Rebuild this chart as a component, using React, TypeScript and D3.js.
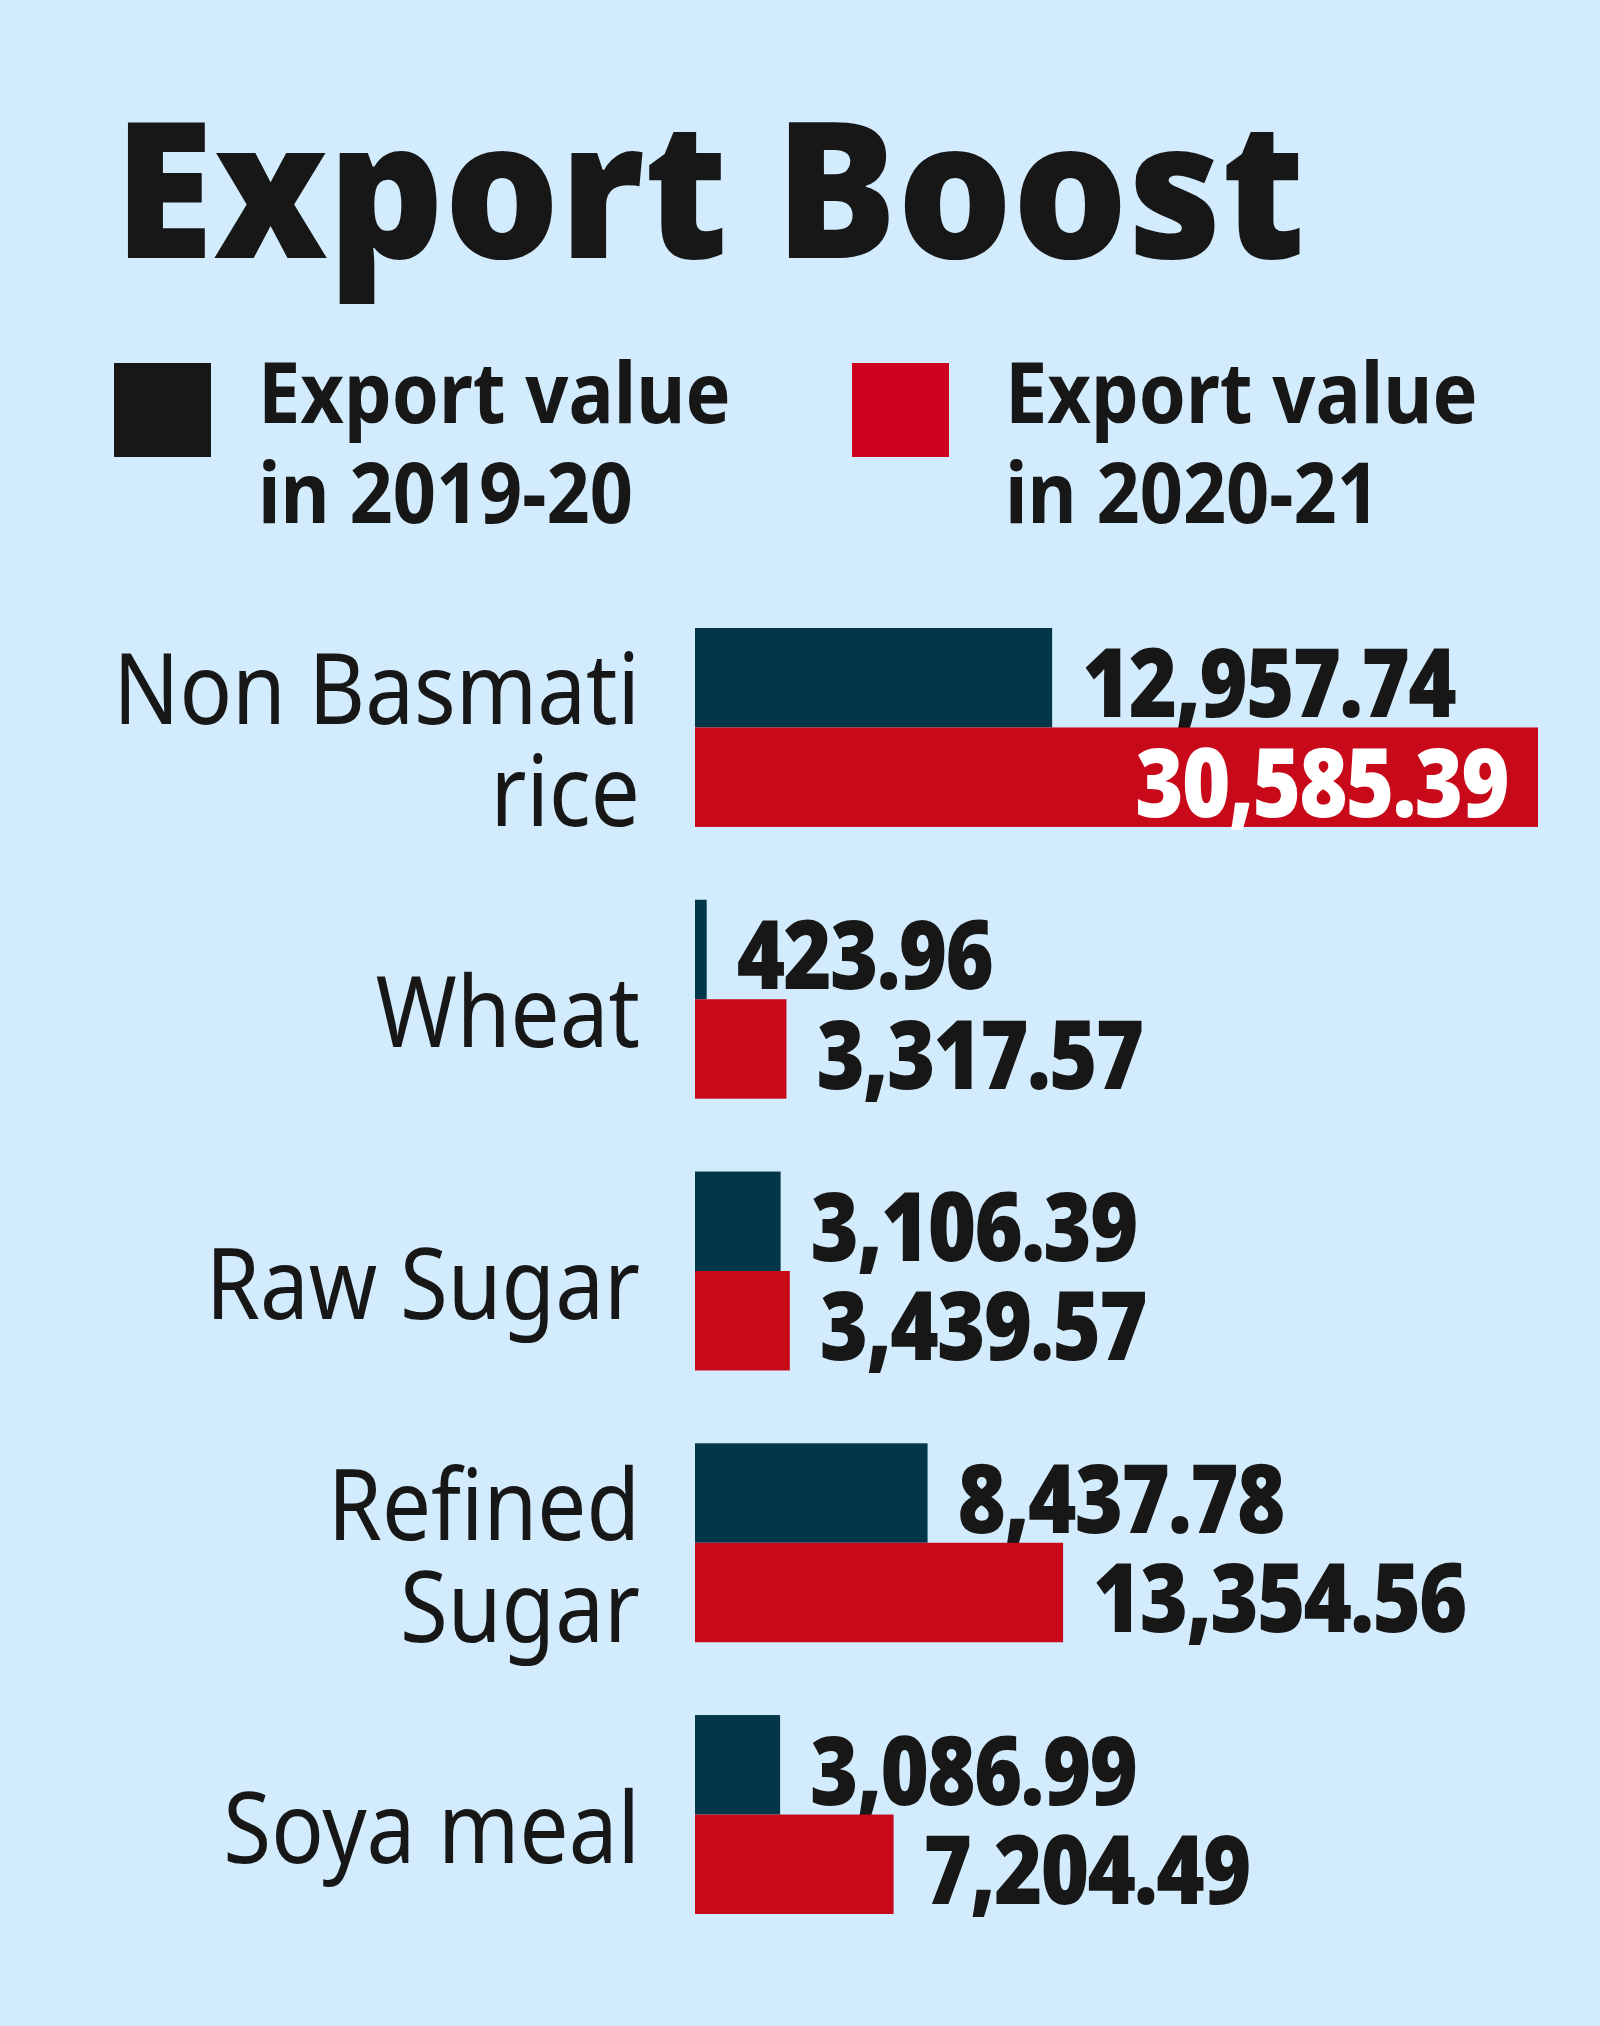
import React from "react";
import { scaleBand, scaleLinear, max, format } from "d3";

// export values (in crore), two years per commodity
const categories = ["Non Basmati rice", "Wheat", "Raw Sugar", "Refined Sugar", "Soya meal"];
const labelLines = [["Non Basmati", "rice"], ["Wheat"], ["Raw Sugar"], ["Refined", "Sugar"], ["Soya meal"]];
const years = ["2019-20", "2020-21"];
const exports2019 = [12957.74, 423.96, 3106.39, 8437.78, 3086.99];
const exports2020 = [30585.39, 3317.57, 3439.57, 13354.56, 7204.49];
const legendLabels = [["Export value", "in 2019-20"], ["Export value", "in 2020-21"]];

const W = 1600;
const H = 2026;
const BG = "#d2ebfd";
const INK = "#171717";
const barColors = ["#023649", "#c8091a"];
const legendColors = ["#171717", "#d0001f"];
const FONT = "'Noto Sans', sans-serif";

const fmt = format(",.2f");

export default function App() {
  const xScale = scaleLinear()
    .domain([0, max(exports2020) as number])
    .range([695, 1538]);

  const yScale = scaleBand<string>()
    .domain(categories)
    .range([628, 1914])
    .paddingInner(0.268)
    .paddingOuter(0);

  const inner = scaleBand<string>().domain(years).range([0, yScale.bandwidth()]);

  const series = [exports2019, exports2020];

  const groups = categories.map((cat, i) => {
    const y0 = yScale(cat) as number;
    const mid = y0 + yScale.bandwidth() / 2;
    const lines = labelLines[i];
    return (
      <g key={cat}>
        {lines.map((line, j) => (
          <text
            key={line}
            transform={`translate(640, ${mid + 48 + (j - (lines.length - 1) / 2) * 102}) scale(0.88, 1)`}
            textAnchor="end"
            fontSize={99}
            fontWeight={400}
            fill={INK}
          >
            {line}
          </text>
        ))}
        {years.map((yr, k) => {
          const v = series[k][i];
          const by = y0 + (inner(yr) as number);
          const bh = inner.bandwidth();
          const xEnd = xScale(v);
          const label = fmt(v);
          // too long to fit past the bar end -> put it inside, in white
          const inside = xEnd + 32 + label.length * 42 > W - 20;
          return (
            <g key={yr}>
              <rect x={xScale(0)} y={by} width={xEnd - xScale(0)} height={bh} fill={barColors[k]} />
              <text
                transform={`translate(${inside ? xEnd - 30 : xEnd + 30}, ${by + bh - 10}) scale(0.87, 1)`}
                textAnchor={inside ? "end" : "start"}
                fontSize={95}
                fontWeight={900}
                letterSpacing={-2}
                fill={inside ? "#ffffff" : INK}
              >
                {label}
              </text>
            </g>
          );
        })}
      </g>
    );
  });

  const legend = legendLabels.map((lines, k) => {
    const x0 = k === 0 ? 114 : 852;
    const tx = k === 0 ? 258 : 1005;
    return (
      <g key={k}>
        <rect x={x0} y={363} width={97} height={94} fill={legendColors[k]} />
        {lines.map((line, j) => (
          <text
            key={line}
            transform={`translate(${tx}, ${423 + j * 100}) scale(0.9, 1)`}
            fontSize={84}
            fontWeight={700}
            fill={INK}
          >
            {line}
          </text>
        ))}
      </g>
    );
  });

  return (
    <svg
      width={W}
      height={H}
      viewBox={`0 0 ${W} ${H}`}
      style={{ position: "absolute", left: 0, top: 0, display: "block" }}
      fontFamily={FONT}
    >
      <rect width={W} height={H} fill={BG} />
      <text
        x={114}
        y={258}
        fontSize={189}
        fontWeight={900}
        fill={INK}
        textLength={1191}
        lengthAdjust="spacingAndGlyphs"
      >
        Export Boost
      </text>
      {legend}
      {groups}
    </svg>
  );
}
